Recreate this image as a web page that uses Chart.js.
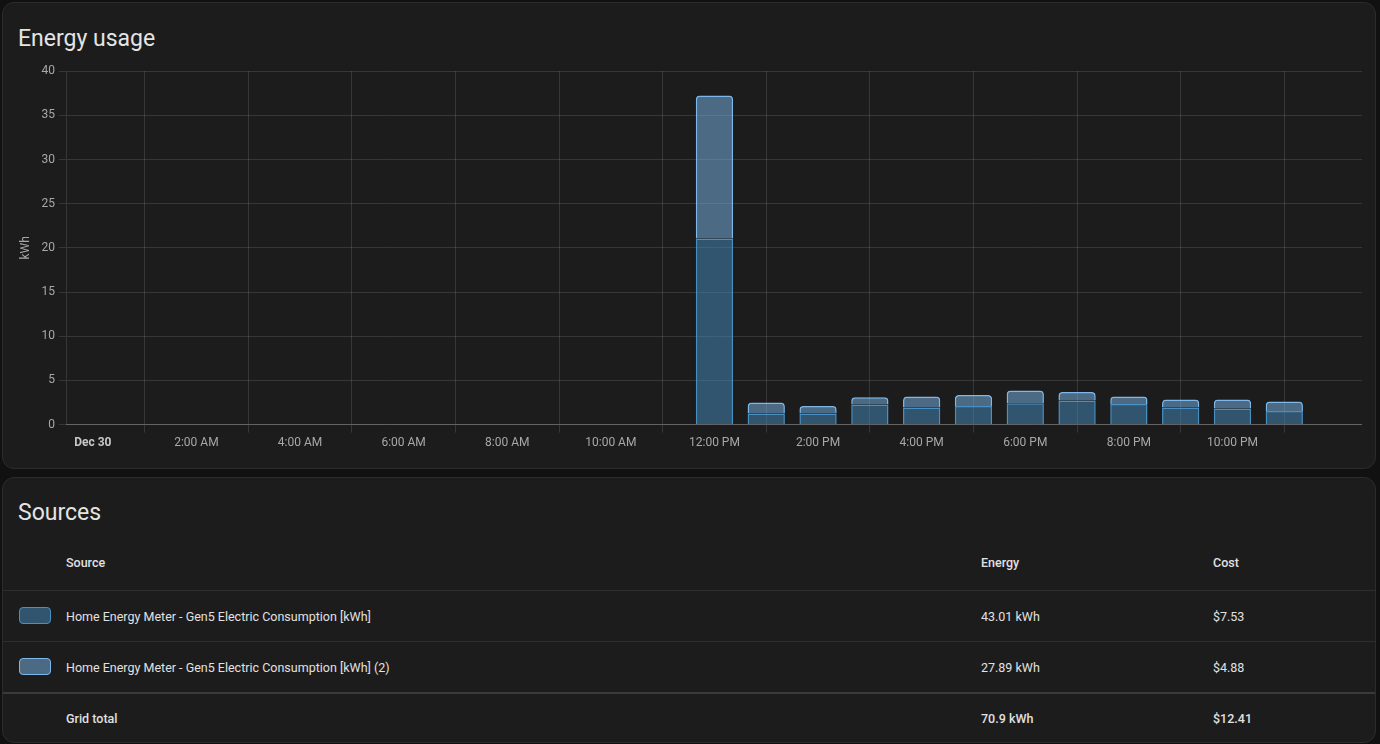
<!DOCTYPE html>
<html>
<head>
<meta charset="utf-8">
<script src="https://cdn.jsdelivr.net/npm/chart.js@4.4.1/dist/chart.umd.min.js"></script>
<style>
  body { margin:0; background:#111111; width:1380px; height:744px; overflow:hidden; position:relative;
         font-family: Roboto, "Noto Sans", sans-serif; color:#e1e1e1; }
  .card { position:absolute; left:2px; width:1374px; background:#1c1c1c; border:1px solid #2c2c2c; border-radius:12px; box-sizing:border-box; }
  .title { position:absolute; left:15px; font-size:23px; font-weight:400; color:#e4e4e4; }
  #wrap { position:absolute; left:12px; top:57px; width:1347px; height:393px; }
  .row { position:absolute; left:0; right:0; font-size:12.5px; }
  .row span { position:absolute; top:0; }
  .line { position:absolute; left:0; right:0; height:1px; background:#2e2e2e; }
  .sw { position:absolute; left:16px; width:30px; height:15px; border-radius:4px; border:1.5px solid; }
  .hd { font-weight:500; }
</style>
</head>
<body>
<div class="card" style="top:2px;height:467px;">
  <div class="title" style="top:22px;">Energy usage</div>
  <div id="wrap"><canvas id="myChart"></canvas></div>
</div>
<div class="card" style="top:477px;height:266px;" id="sources">
  <div class="title" style="top:21px;">Sources</div>
</div>
<script>
// hourly labels for Dec 30 (25 slots, last one is midnight)
const hourLabels = ['Dec 30','1:00 AM','2:00 AM','3:00 AM','4:00 AM','5:00 AM','6:00 AM','7:00 AM','8:00 AM','9:00 AM','10:00 AM','11:00 AM',
  '12:00 PM','1:00 PM','2:00 PM','3:00 PM','4:00 PM','5:00 PM','6:00 PM','7:00 PM','8:00 PM','9:00 PM','10:00 PM','11:00 PM',''];
// kWh per hour, bottom series
const consumption1 = [0,0,0,0,0,0,0,0,0,0,0,0, 21.05,1.25,1.25,2.27,1.93,2.11,2.42,2.73,2.34,1.93,1.82,1.55, null];
// kWh per hour, top series
const consumption2 = [0,0,0,0,0,0,0,0,0,0,0,0, 16.2,1.25,0.86,0.83,1.25,1.25,1.44,0.97,0.84,0.91,1.02,1.06, null];
const yTicks = [0,5,10,15,20,25,30,35,40];

const sourceNames = ['Home Energy Meter - Gen5 Electric Consumption [kWh]','Home Energy Meter - Gen5 Electric Consumption [kWh] (2)'];
const sourceEnergy = ['43.01 kWh','27.89 kWh'];
const sourceCost = ['$7.53','$4.88'];
const gridTotal = ['Grid total','70.9 kWh','$12.41'];
const borderColors = ['#488fc2','#7cb8ec'];
const fillColors = ['#488fc27f','#7cb8ec7f'];

// sources table
const src = document.getElementById('sources');
function addRow(top, cells, bold) {
  const r = document.createElement('div');
  r.className = 'row' + (bold ? ' hd' : '');
  r.style.top = top + 'px';
  const xs = [63, 978, 1210];
  cells.forEach((c, i) => {
    const s = document.createElement('span');
    s.textContent = c; s.style.left = xs[i] + 'px';
    r.appendChild(s);
  });
  src.appendChild(r);
}
function addLine(top, color) {
  const l = document.createElement('div');
  l.className = 'line'; l.style.top = top + 'px';
  if (color) { l.style.background = color; l.style.height = '2px'; }
  src.appendChild(l);
}
addRow(77, ['Source','Energy','Cost'], true);
addLine(112);
sourceNames.forEach((n, i) => {
  const top = 131 + i * 51;
  addRow(top, [n, sourceEnergy[i], sourceCost[i]], false);
  const sw = document.createElement('div');
  sw.className = 'sw';
  sw.style.top = (top - 2) + 'px';
  sw.style.borderColor = borderColors[i];
  sw.style.background = fillColors[i];
  src.appendChild(sw);
  addLine(top + 32, i === 1 ? '#3a3a3a' : null);
});
addRow(233, gridTotal, true);

const ctx = document.getElementById('myChart');
new Chart(ctx, {
  type: 'bar',
  data: {
    labels: hourLabels,
    datasets: [{
      label: sourceNames[0],
      data: consumption1,
      backgroundColor: fillColors[0],
      borderColor: borderColors[0],
      borderWidth: 1.5,
      borderRadius: 0
    }, {
      label: sourceNames[1],
      data: consumption2,
      backgroundColor: fillColors[1],
      borderColor: borderColors[1],
      borderWidth: 1.5,
      borderRadius: {topLeft: 4, topRight: 4}
    }]
  },
  options: {
    responsive: true,
    maintainAspectRatio: false,
    animation: false,
    layout: { padding: { left: 0, right: 0, top: 4, bottom: 0 } },
    plugins: { legend: { display: false }, tooltip: { enabled: false } },
    scales: {
      x: {
        stacked: true,
        grid: { color: 'rgba(255,255,255,0.12)', tickLength: 8, offset: true },
        border: { color: 'rgba(255,255,255,0.22)' },
        ticks: {
          maxRotation: 0,
          autoSkip: true,
          color: ctx => ctx.index === 0 ? '#c8c8c8' : '#a8a8a8',
          font: ctx => ({ family: 'Roboto', size: 12, weight: ctx.index === 0 ? 'bold' : 'normal' })
        }
      },
      y: {
        stacked: true,
        min: 0, max: 40,
        afterBuildTicks: axis => { axis.ticks = yTicks.map(v => ({ value: v })); },
        grid: { color: 'rgba(255,255,255,0.12)', tickLength: 8 },
        border: { color: 'rgba(255,255,255,0.12)' },
        ticks: { color: '#a8a8a8', font: { family: 'Roboto', size: 12 }, padding: 4 },
        title: { display: true, text: 'kWh', color: '#a8a8a8', font: { family: 'Roboto', size: 12 } }
      }
    }
  }
});
</script>
</body>
</html>
